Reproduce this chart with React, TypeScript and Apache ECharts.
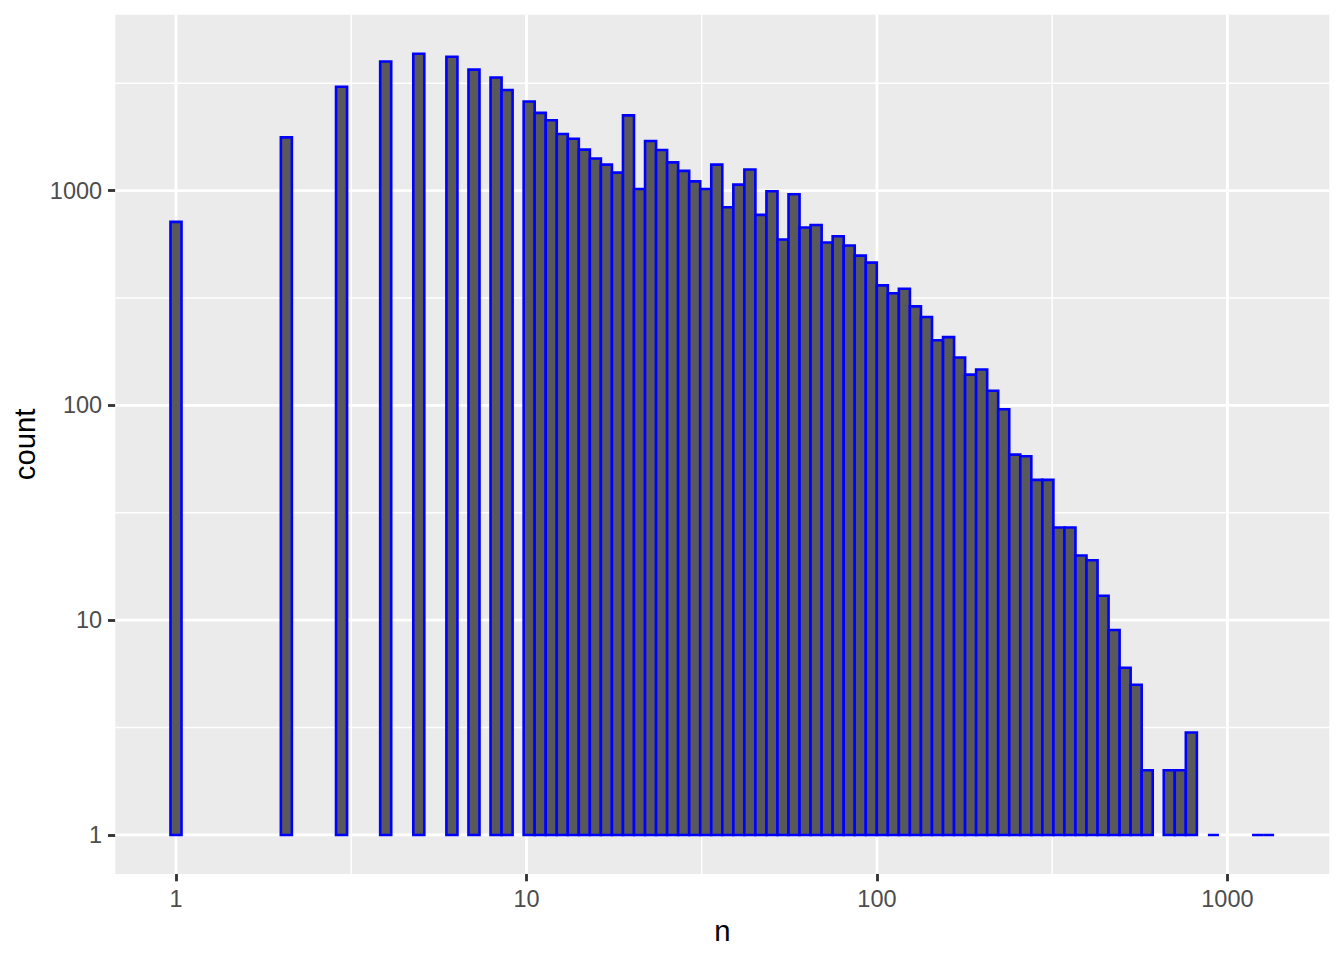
import React, { useEffect, useRef } from "react";
import * as echarts from "echarts";

// Histogram of n (log10 x), counts per bin (log10 y). Bin k is centred at k * binWidth in log10(n).
const binWidth = 0.03149;
const counts = [
  715, 0, 0, 0, 0, 0, 0, 0, 0, 0,
  1770, 0, 0, 0, 0, 3045, 0, 0, 0, 3990,
  0, 0, 4337, 0, 0, 4200, 0, 3660, 0, 3360,
  2940, 0, 2600, 2300, 2125, 1836, 1745, 1552, 1410, 1321,
  1213, 2240, 1018, 1702, 1546, 1354, 1235, 1104, 1018, 1321,
  836, 1066, 1253, 771, 993, 592, 961, 673, 692, 573,
  613, 555, 498, 462, 362, 333, 349, 289, 258, 201,
  208, 167, 139, 147, 117, 96, 59, 58, 45, 45,
  27, 27, 20, 19, 13, 9, 6, 5, 2, 0,
  2, 2, 3, 0, 1, 0, 0, 0, 1, 1,
];

const xTickValues = [1, 10, 100, 1000];
const xTickLabels = ["1", "10", "100", "1000"];
const yTickValues = [1, 10, 100, 1000];
const yTickLabels = ["1", "10", "100", "1000"];

const FONT = "'Liberation Sans', Arial, Helvetica, sans-serif";

export default function App() {
  const ref = useRef<HTMLDivElement>(null);

  useEffect(() => {
    if (!ref.current) return;
    const chart = echarts.init(ref.current, undefined, { renderer: "svg" });

    const bars = counts
      .map((c, i) => (c > 0 ? [(i - 0.5) * binWidth, (i + 0.5) * binWidth, Math.log10(c)] : null))
      .filter((d) => d !== null) as number[][];

    // ggplot-like 5% expansion of the data range
    const xLo = -0.5 * binWidth;
    const xHi = (counts.length - 0.5) * binWidth;
    const xPad = 0.05 * (xHi - xLo);
    const xMin = xLo - xPad;
    const xMax = xHi + xPad;
    const yLo = 0;
    const yHi = Math.log10(Math.max(...counts));
    const yPad = 0.05 * (yHi - yLo);
    const yMin = yLo - yPad;
    const yMax = yHi + yPad;

    const xMajor = xTickValues.map((v) => Math.log10(v));
    const yMajor = yTickValues.map((v) => Math.log10(v));
    const minorOf = (major: number[], lo: number, hi: number) => {
      const out: number[] = [];
      const step = major[1] - major[0];
      for (let i = -1; i < major.length; i++) {
        const m = (i < 0 ? major[0] - step : major[i]) + step / 2;
        if (m > lo && m < hi) out.push(m);
      }
      return out;
    };
    const xMinor = minorOf(xMajor, xMin, xMax);
    const yMinor = minorOf(yMajor, yMin, yMax);

    const vLines = [
      ...xMinor.map((v) => [v, 1.42]),
      ...xMajor.map((v) => [v, 2.85]),
    ];
    const hLines = [
      ...yMinor.map((v) => [v, 1.42]),
      ...yMajor.map((v) => [v, 2.85]),
    ];

    const labelFor = (vals: number[], labels: string[]) => (v: number) => {
      let best = 0;
      for (let i = 0; i < vals.length; i++) {
        if (Math.abs(Math.log10(vals[i]) - v) < Math.abs(Math.log10(vals[best]) - v)) best = i;
      }
      return labels[best];
    };

    const axisCommon = {
      type: "value" as const,
      axisLine: { show: false, onZero: false },
      splitLine: { show: false },
      minorSplitLine: { show: false },
      axisTick: { show: true, length: 7.3, lineStyle: { color: "#333333", width: 2.85 } },
    };

    chart.setOption({
      animation: false,
      backgroundColor: "#FFFFFF",
      grid: {
        left: 115.3,
        right: 14.7,
        top: 14.7,
        bottom: 86,
        show: true,
        backgroundColor: "#EBEBEB",
        borderWidth: 0,
        containLabel: false,
      },
      xAxis: {
        ...axisCommon,
        min: xMin,
        max: xMax,
        axisTick: { ...axisCommon.axisTick, customValues: xMajor },
        axisLabel: {
          customValues: xMajor,
          formatter: labelFor(xTickValues, xTickLabels),
          color: "#4D4D4D",
          fontSize: 23.5,
          fontFamily: FONT,
          margin: 13.2,
        },
        name: "n",
        nameLocation: "middle",
        nameGap: 41,
        nameTextStyle: { color: "#000000", fontSize: 29.3, fontFamily: FONT },
      },
      yAxis: {
        ...axisCommon,
        min: yMin,
        max: yMax,
        axisTick: { ...axisCommon.axisTick, customValues: yMajor },
        axisLabel: {
          customValues: yMajor,
          formatter: labelFor(yTickValues, yTickLabels),
          color: "#4D4D4D",
          fontSize: 23.5,
          fontFamily: FONT,
          margin: 13.2,
        },
        name: "count",
        nameLocation: "middle",
        nameGap: 74,
        nameRotate: 90,
        nameTextStyle: { color: "#000000", fontSize: 29.3, fontFamily: FONT },
      },
      series: [
        {
          type: "custom",
          silent: true,
          z: 1,
          data: vLines,
          encode: { x: 0 },
          renderItem: (params: any, api: any) => {
            const cs = params.coordSys;
            const x = api.coord([api.value(0), 0])[0];
            return {
              type: "line",
              shape: { x1: x, y1: cs.y, x2: x, y2: cs.y + cs.height },
              style: { stroke: "#FFFFFF", lineWidth: api.value(1) },
            };
          },
        },
        {
          type: "custom",
          silent: true,
          z: 1,
          data: hLines,
          encode: { y: 0 },
          renderItem: (params: any, api: any) => {
            const cs = params.coordSys;
            const y = api.coord([0, api.value(0)])[1];
            return {
              type: "line",
              shape: { x1: cs.x, y1: y, x2: cs.x + cs.width, y2: y },
              style: { stroke: "#FFFFFF", lineWidth: api.value(1) },
            };
          },
        },
        {
          type: "custom",
          z: 2,
          data: bars,
          encode: { x: [0, 1], y: 2 },
          renderItem: (params: any, api: any) => {
            const p0 = api.coord([api.value(0), 0]);
            const p1 = api.coord([api.value(1), api.value(2)]);
            return {
              type: "rect",
              shape: { x: p0[0], y: p1[1], width: p1[0] - p0[0], height: p0[1] - p1[1] },
              style: { fill: "#595959", stroke: "#0000FF", lineWidth: 2.6 },
            };
          },
        },
      ],
    });

    return () => chart.dispose();
  }, []);

  return (
    <div
      ref={ref}
      style={{ position: "absolute", left: 0, top: 0, width: 1344, height: 960 }}
    />
  );
}
